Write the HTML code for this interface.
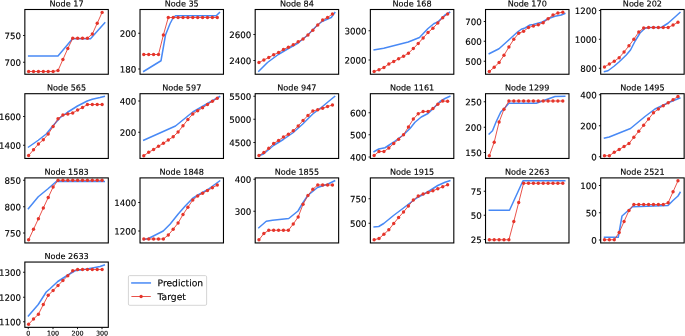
<!DOCTYPE html>
<html><head><meta charset="utf-8"><title>Node predictions</title>
<style>
html,body{margin:0;padding:0;background:#fff;}
body{width:685px;height:336px;overflow:hidden;}
svg{display:block;font-family:"DejaVu Sans","Liberation Sans",sans-serif;fill:#000;}
text{stroke:#000;stroke-width:0.14px;}
</style></head><body>
<svg width="685" height="336" viewBox="0 0 685 336">
<rect width="685" height="336" fill="#fff"/>
<g>
<polyline fill="none" stroke="#4889f5" stroke-width="1.5" stroke-linejoin="round" stroke-linecap="butt" points="27.9,56 58,56 72.5,38.75 90.5,38.75 105.25,22.25"/>
<polyline fill="none" stroke="#e5342a" stroke-width="0.85" stroke-linejoin="round" points="28.62,71.5 33.52,71.5 38.42,71.5 43.32,71.5 48.22,71.5 53.12,71.5 58.02,70.5 62.92,59.5 67.82,48.5 72.72,38.25 77.62,38.25 82.52,38.25 87.42,38.25 92.32,34 97.22,23.25 102.12,12.38"/>
<circle cx="28.62" cy="71.5" r="1.68" fill="#e5342a"/>
<circle cx="33.52" cy="71.5" r="1.68" fill="#e5342a"/>
<circle cx="38.42" cy="71.5" r="1.68" fill="#e5342a"/>
<circle cx="43.32" cy="71.5" r="1.68" fill="#e5342a"/>
<circle cx="48.22" cy="71.5" r="1.68" fill="#e5342a"/>
<circle cx="53.12" cy="71.5" r="1.68" fill="#e5342a"/>
<circle cx="58.02" cy="70.5" r="1.68" fill="#e5342a"/>
<circle cx="62.92" cy="59.5" r="1.68" fill="#e5342a"/>
<circle cx="67.82" cy="48.5" r="1.68" fill="#e5342a"/>
<circle cx="72.72" cy="38.25" r="1.68" fill="#e5342a"/>
<circle cx="77.62" cy="38.25" r="1.68" fill="#e5342a"/>
<circle cx="82.52" cy="38.25" r="1.68" fill="#e5342a"/>
<circle cx="87.42" cy="38.25" r="1.68" fill="#e5342a"/>
<circle cx="92.32" cy="34" r="1.68" fill="#e5342a"/>
<circle cx="97.22" cy="23.25" r="1.68" fill="#e5342a"/>
<circle cx="102.12" cy="12.38" r="1.68" fill="#e5342a"/>
<rect x="24.85" y="9.5" width="83.45" height="64.75" fill="none" stroke="#000" stroke-width="1.1"/>
<line x1="23.05" y1="35.5" x2="24.85" y2="35.5" stroke="#000" stroke-width="0.9"/>
<text x="21.05" y="39" text-anchor="end" font-size="8.68" transform="rotate(0.03 21.05 39)">750</text>
<line x1="23.05" y1="62.25" x2="24.85" y2="62.25" stroke="#000" stroke-width="0.9"/>
<text x="21.05" y="65.75" text-anchor="end" font-size="8.68" transform="rotate(0.03 21.05 65.75)">700</text>
<text x="66.58" y="6.4" text-anchor="middle" font-size="8.12" transform="rotate(0.03 66.58 6.4)">Node 17</text>
</g>
<g>
<polyline fill="none" stroke="#4889f5" stroke-width="1.5" stroke-linejoin="round" stroke-linecap="butt" points="143.07,71.75 161,60.75 165.5,35 170,23.75 173,18 175.5,15.75 216.25,15.75 220,12"/>
<polyline fill="none" stroke="#e5342a" stroke-width="0.85" stroke-linejoin="round" points="143.79,54.5 148.69,54.5 153.59,54.5 158.49,54.5 163.39,35 168.29,17.5 173.19,17.5 178.09,17.5 182.99,17.5 187.89,17.5 192.79,17.5 197.69,17.5 202.59,17.5 207.49,17.5 212.39,17.5 217.29,17.5"/>
<circle cx="143.79" cy="54.5" r="1.68" fill="#e5342a"/>
<circle cx="148.69" cy="54.5" r="1.68" fill="#e5342a"/>
<circle cx="153.59" cy="54.5" r="1.68" fill="#e5342a"/>
<circle cx="158.49" cy="54.5" r="1.68" fill="#e5342a"/>
<circle cx="163.39" cy="35" r="1.68" fill="#e5342a"/>
<circle cx="168.29" cy="17.5" r="1.68" fill="#e5342a"/>
<circle cx="173.19" cy="17.5" r="1.68" fill="#e5342a"/>
<circle cx="178.09" cy="17.5" r="1.68" fill="#e5342a"/>
<circle cx="182.99" cy="17.5" r="1.68" fill="#e5342a"/>
<circle cx="187.89" cy="17.5" r="1.68" fill="#e5342a"/>
<circle cx="192.79" cy="17.5" r="1.68" fill="#e5342a"/>
<circle cx="197.69" cy="17.5" r="1.68" fill="#e5342a"/>
<circle cx="202.59" cy="17.5" r="1.68" fill="#e5342a"/>
<circle cx="207.49" cy="17.5" r="1.68" fill="#e5342a"/>
<circle cx="212.39" cy="17.5" r="1.68" fill="#e5342a"/>
<circle cx="217.29" cy="17.5" r="1.68" fill="#e5342a"/>
<rect x="140.02" y="9.5" width="83.45" height="64.75" fill="none" stroke="#000" stroke-width="1.1"/>
<line x1="138.22" y1="33.25" x2="140.02" y2="33.25" stroke="#000" stroke-width="0.9"/>
<text x="136.22" y="36.75" text-anchor="end" font-size="8.68" transform="rotate(0.03 136.22 36.75)">200</text>
<line x1="138.22" y1="69" x2="140.02" y2="69" stroke="#000" stroke-width="0.9"/>
<text x="136.22" y="72.5" text-anchor="end" font-size="8.68" transform="rotate(0.03 136.22 72.5)">180</text>
<text x="181.75" y="6.4" text-anchor="middle" font-size="8.12" transform="rotate(0.03 181.75 6.4)">Node 35</text>
</g>
<g>
<polyline fill="none" stroke="#4889f5" stroke-width="1.5" stroke-linejoin="round" stroke-linecap="butt" points="258.24,71.75 267.5,62.5 278.25,54.5 288,48.75 297.75,43.25 307.75,35 317.5,25 322.5,21.25 331.25,17.5 335.25,12"/>
<polyline fill="none" stroke="#e5342a" stroke-width="0.85" stroke-linejoin="round" points="258.96,62.5 263.86,60 268.76,57.5 273.66,54.75 278.56,52.5 283.46,49.5 288.36,47.25 293.26,44.75 298.16,41.75 303.06,39 307.96,35 312.86,30.25 317.76,25 322.66,20 327.56,17.5 332.46,14"/>
<circle cx="258.96" cy="62.5" r="1.68" fill="#e5342a"/>
<circle cx="263.86" cy="60" r="1.68" fill="#e5342a"/>
<circle cx="268.76" cy="57.5" r="1.68" fill="#e5342a"/>
<circle cx="273.66" cy="54.75" r="1.68" fill="#e5342a"/>
<circle cx="278.56" cy="52.5" r="1.68" fill="#e5342a"/>
<circle cx="283.46" cy="49.5" r="1.68" fill="#e5342a"/>
<circle cx="288.36" cy="47.25" r="1.68" fill="#e5342a"/>
<circle cx="293.26" cy="44.75" r="1.68" fill="#e5342a"/>
<circle cx="298.16" cy="41.75" r="1.68" fill="#e5342a"/>
<circle cx="303.06" cy="39" r="1.68" fill="#e5342a"/>
<circle cx="307.96" cy="35" r="1.68" fill="#e5342a"/>
<circle cx="312.86" cy="30.25" r="1.68" fill="#e5342a"/>
<circle cx="317.76" cy="25" r="1.68" fill="#e5342a"/>
<circle cx="322.66" cy="20" r="1.68" fill="#e5342a"/>
<circle cx="327.56" cy="17.5" r="1.68" fill="#e5342a"/>
<circle cx="332.46" cy="14" r="1.68" fill="#e5342a"/>
<rect x="255.19" y="9.5" width="83.45" height="64.75" fill="none" stroke="#000" stroke-width="1.1"/>
<line x1="253.39" y1="34.5" x2="255.19" y2="34.5" stroke="#000" stroke-width="0.9"/>
<text x="251.39" y="38" text-anchor="end" font-size="8.68" transform="rotate(0.03 251.39 38)">2600</text>
<line x1="253.39" y1="60.5" x2="255.19" y2="60.5" stroke="#000" stroke-width="0.9"/>
<text x="251.39" y="64" text-anchor="end" font-size="8.68" transform="rotate(0.03 251.39 64)">2400</text>
<text x="296.91" y="6.4" text-anchor="middle" font-size="8.12" transform="rotate(0.03 296.91 6.4)">Node 84</text>
</g>
<g>
<polyline fill="none" stroke="#4889f5" stroke-width="1.5" stroke-linejoin="round" stroke-linecap="butt" points="373.41,50 383.75,48.25 393.5,45.75 408.25,42 419.5,37.5 427.75,28.75 433.75,23.75 437.75,22 445,15 450.25,12"/>
<polyline fill="none" stroke="#e5342a" stroke-width="0.85" stroke-linejoin="round" points="374.13,71.5 379.03,69.75 383.93,67.5 388.83,64 393.73,61.5 398.63,58.75 403.53,56.25 408.43,53.25 413.33,48.5 418.23,43.5 423.13,38 428.03,32.5 432.93,28.25 437.83,23 442.73,17.75 447.63,14"/>
<circle cx="374.13" cy="71.5" r="1.68" fill="#e5342a"/>
<circle cx="379.03" cy="69.75" r="1.68" fill="#e5342a"/>
<circle cx="383.93" cy="67.5" r="1.68" fill="#e5342a"/>
<circle cx="388.83" cy="64" r="1.68" fill="#e5342a"/>
<circle cx="393.73" cy="61.5" r="1.68" fill="#e5342a"/>
<circle cx="398.63" cy="58.75" r="1.68" fill="#e5342a"/>
<circle cx="403.53" cy="56.25" r="1.68" fill="#e5342a"/>
<circle cx="408.43" cy="53.25" r="1.68" fill="#e5342a"/>
<circle cx="413.33" cy="48.5" r="1.68" fill="#e5342a"/>
<circle cx="418.23" cy="43.5" r="1.68" fill="#e5342a"/>
<circle cx="423.13" cy="38" r="1.68" fill="#e5342a"/>
<circle cx="428.03" cy="32.5" r="1.68" fill="#e5342a"/>
<circle cx="432.93" cy="28.25" r="1.68" fill="#e5342a"/>
<circle cx="437.83" cy="23" r="1.68" fill="#e5342a"/>
<circle cx="442.73" cy="17.75" r="1.68" fill="#e5342a"/>
<circle cx="447.63" cy="14" r="1.68" fill="#e5342a"/>
<rect x="370.36" y="9.5" width="83.45" height="64.75" fill="none" stroke="#000" stroke-width="1.1"/>
<line x1="368.56" y1="30.75" x2="370.36" y2="30.75" stroke="#000" stroke-width="0.9"/>
<text x="366.56" y="34.25" text-anchor="end" font-size="8.68" transform="rotate(0.03 366.56 34.25)">3000</text>
<line x1="368.56" y1="60" x2="370.36" y2="60" stroke="#000" stroke-width="0.9"/>
<text x="366.56" y="63.5" text-anchor="end" font-size="8.68" transform="rotate(0.03 366.56 63.5)">2000</text>
<text x="412.09" y="6.4" text-anchor="middle" font-size="8.12" transform="rotate(0.03 412.09 6.4)">Node 168</text>
</g>
<g>
<polyline fill="none" stroke="#4889f5" stroke-width="1.5" stroke-linejoin="round" stroke-linecap="butt" points="488.58,54 499,48.75 508.75,40 517.5,32 521.25,29.25 525,28 530,25 533.25,24.5 542.5,22 548,18.75 555,16.25 561.25,15 565.5,13.25"/>
<polyline fill="none" stroke="#e5342a" stroke-width="0.85" stroke-linejoin="round" points="489.3,71.5 494.2,67.25 499.1,62.5 504,55.25 508.9,47 513.8,39.25 518.7,33.25 523.6,31.25 528.5,27.5 533.4,26 538.3,24.75 543.2,22.75 548.1,18.75 553,15 557.9,13 562.8,12.25"/>
<circle cx="489.3" cy="71.5" r="1.68" fill="#e5342a"/>
<circle cx="494.2" cy="67.25" r="1.68" fill="#e5342a"/>
<circle cx="499.1" cy="62.5" r="1.68" fill="#e5342a"/>
<circle cx="504" cy="55.25" r="1.68" fill="#e5342a"/>
<circle cx="508.9" cy="47" r="1.68" fill="#e5342a"/>
<circle cx="513.8" cy="39.25" r="1.68" fill="#e5342a"/>
<circle cx="518.7" cy="33.25" r="1.68" fill="#e5342a"/>
<circle cx="523.6" cy="31.25" r="1.68" fill="#e5342a"/>
<circle cx="528.5" cy="27.5" r="1.68" fill="#e5342a"/>
<circle cx="533.4" cy="26" r="1.68" fill="#e5342a"/>
<circle cx="538.3" cy="24.75" r="1.68" fill="#e5342a"/>
<circle cx="543.2" cy="22.75" r="1.68" fill="#e5342a"/>
<circle cx="548.1" cy="18.75" r="1.68" fill="#e5342a"/>
<circle cx="553" cy="15" r="1.68" fill="#e5342a"/>
<circle cx="557.9" cy="13" r="1.68" fill="#e5342a"/>
<circle cx="562.8" cy="12.25" r="1.68" fill="#e5342a"/>
<rect x="485.53" y="9.5" width="83.45" height="64.75" fill="none" stroke="#000" stroke-width="1.1"/>
<line x1="483.73" y1="21.5" x2="485.53" y2="21.5" stroke="#000" stroke-width="0.9"/>
<text x="481.73" y="25" text-anchor="end" font-size="8.68" transform="rotate(0.03 481.73 25)">700</text>
<line x1="483.73" y1="41.25" x2="485.53" y2="41.25" stroke="#000" stroke-width="0.9"/>
<text x="481.73" y="44.75" text-anchor="end" font-size="8.68" transform="rotate(0.03 481.73 44.75)">600</text>
<line x1="483.73" y1="61.25" x2="485.53" y2="61.25" stroke="#000" stroke-width="0.9"/>
<text x="481.73" y="64.75" text-anchor="end" font-size="8.68" transform="rotate(0.03 481.73 64.75)">500</text>
<text x="527.25" y="6.4" text-anchor="middle" font-size="8.12" transform="rotate(0.03 527.25 6.4)">Node 170</text>
</g>
<g>
<polyline fill="none" stroke="#4889f5" stroke-width="1.5" stroke-linejoin="round" stroke-linecap="butt" points="603.75,71.75 608,70.75 614,66.25 619,62 626.25,55 630.5,50 635,41.25 640,33 645,28.25 650,27.5 661.25,27.5 668,23.25 675,17 680.5,12"/>
<polyline fill="none" stroke="#e5342a" stroke-width="0.85" stroke-linejoin="round" points="604.47,67 609.37,64 614.27,61.25 619.17,57.75 624.07,52 628.97,45.75 633.87,39.25 638.77,32 643.67,28 648.57,27.5 653.47,27.5 658.37,27.5 663.27,27.5 668.17,27.5 673.07,25 677.97,22.25"/>
<circle cx="604.47" cy="67" r="1.68" fill="#e5342a"/>
<circle cx="609.37" cy="64" r="1.68" fill="#e5342a"/>
<circle cx="614.27" cy="61.25" r="1.68" fill="#e5342a"/>
<circle cx="619.17" cy="57.75" r="1.68" fill="#e5342a"/>
<circle cx="624.07" cy="52" r="1.68" fill="#e5342a"/>
<circle cx="628.97" cy="45.75" r="1.68" fill="#e5342a"/>
<circle cx="633.87" cy="39.25" r="1.68" fill="#e5342a"/>
<circle cx="638.77" cy="32" r="1.68" fill="#e5342a"/>
<circle cx="643.67" cy="28" r="1.68" fill="#e5342a"/>
<circle cx="648.57" cy="27.5" r="1.68" fill="#e5342a"/>
<circle cx="653.47" cy="27.5" r="1.68" fill="#e5342a"/>
<circle cx="658.37" cy="27.5" r="1.68" fill="#e5342a"/>
<circle cx="663.27" cy="27.5" r="1.68" fill="#e5342a"/>
<circle cx="668.17" cy="27.5" r="1.68" fill="#e5342a"/>
<circle cx="673.07" cy="25" r="1.68" fill="#e5342a"/>
<circle cx="677.97" cy="22.25" r="1.68" fill="#e5342a"/>
<rect x="600.7" y="9.5" width="83.45" height="64.75" fill="none" stroke="#000" stroke-width="1.1"/>
<line x1="598.9" y1="10.5" x2="600.7" y2="10.5" stroke="#000" stroke-width="0.9"/>
<text x="596.9" y="14" text-anchor="end" font-size="8.68" transform="rotate(0.03 596.9 14)">1200</text>
<line x1="598.9" y1="39.25" x2="600.7" y2="39.25" stroke="#000" stroke-width="0.9"/>
<text x="596.9" y="42.75" text-anchor="end" font-size="8.68" transform="rotate(0.03 596.9 42.75)">1000</text>
<line x1="598.9" y1="68.25" x2="600.7" y2="68.25" stroke="#000" stroke-width="0.9"/>
<text x="596.9" y="71.75" text-anchor="end" font-size="8.68" transform="rotate(0.03 596.9 71.75)">800</text>
<text x="642.43" y="6.4" text-anchor="middle" font-size="8.12" transform="rotate(0.03 642.43 6.4)">Node 202</text>
</g>
<g>
<polyline fill="none" stroke="#4889f5" stroke-width="1.5" stroke-linejoin="round" stroke-linecap="butt" points="27.9,147.5 38.25,140.25 46.25,134 52.75,126 60,117.75 67.5,112.25 77.5,106 87.25,101 92.25,99.25 100,97.5 105,96.25"/>
<polyline fill="none" stroke="#e5342a" stroke-width="0.85" stroke-linejoin="round" points="28.62,155.5 33.52,149.75 38.42,144 43.32,139.75 48.22,134 53.12,126.5 58.02,118.75 62.92,115 67.82,114 72.72,113 77.62,110 82.52,107.5 87.42,104.5 92.32,104.5 97.22,104.5 102.12,104.5"/>
<circle cx="28.62" cy="155.5" r="1.68" fill="#e5342a"/>
<circle cx="33.52" cy="149.75" r="1.68" fill="#e5342a"/>
<circle cx="38.42" cy="144" r="1.68" fill="#e5342a"/>
<circle cx="43.32" cy="139.75" r="1.68" fill="#e5342a"/>
<circle cx="48.22" cy="134" r="1.68" fill="#e5342a"/>
<circle cx="53.12" cy="126.5" r="1.68" fill="#e5342a"/>
<circle cx="58.02" cy="118.75" r="1.68" fill="#e5342a"/>
<circle cx="62.92" cy="115" r="1.68" fill="#e5342a"/>
<circle cx="67.82" cy="114" r="1.68" fill="#e5342a"/>
<circle cx="72.72" cy="113" r="1.68" fill="#e5342a"/>
<circle cx="77.62" cy="110" r="1.68" fill="#e5342a"/>
<circle cx="82.52" cy="107.5" r="1.68" fill="#e5342a"/>
<circle cx="87.42" cy="104.5" r="1.68" fill="#e5342a"/>
<circle cx="92.32" cy="104.5" r="1.68" fill="#e5342a"/>
<circle cx="97.22" cy="104.5" r="1.68" fill="#e5342a"/>
<circle cx="102.12" cy="104.5" r="1.68" fill="#e5342a"/>
<rect x="24.85" y="93.7" width="83.45" height="64.75" fill="none" stroke="#000" stroke-width="1.1"/>
<line x1="23.05" y1="116.5" x2="24.85" y2="116.5" stroke="#000" stroke-width="0.9"/>
<text x="21.05" y="120" text-anchor="end" font-size="8.68" transform="rotate(0.03 21.05 120)">1600</text>
<line x1="23.05" y1="145.25" x2="24.85" y2="145.25" stroke="#000" stroke-width="0.9"/>
<text x="21.05" y="148.75" text-anchor="end" font-size="8.68" transform="rotate(0.03 21.05 148.75)">1400</text>
<text x="66.58" y="90.6" text-anchor="middle" font-size="8.12" transform="rotate(0.03 66.58 90.6)">Node 565</text>
</g>
<g>
<polyline fill="none" stroke="#4889f5" stroke-width="1.5" stroke-linejoin="round" stroke-linecap="butt" points="143.07,140.5 175.5,126 192.75,112 207.5,103.5 220.25,96.25"/>
<polyline fill="none" stroke="#e5342a" stroke-width="0.85" stroke-linejoin="round" points="143.79,155.75 148.69,152.25 153.59,149.5 158.49,146.25 163.39,143.25 168.29,140 173.19,136.75 178.09,132 182.99,125.75 187.89,119.5 192.79,114 197.69,110.75 202.59,107.75 207.49,104.5 212.39,101.25 217.29,98.25"/>
<circle cx="143.79" cy="155.75" r="1.68" fill="#e5342a"/>
<circle cx="148.69" cy="152.25" r="1.68" fill="#e5342a"/>
<circle cx="153.59" cy="149.5" r="1.68" fill="#e5342a"/>
<circle cx="158.49" cy="146.25" r="1.68" fill="#e5342a"/>
<circle cx="163.39" cy="143.25" r="1.68" fill="#e5342a"/>
<circle cx="168.29" cy="140" r="1.68" fill="#e5342a"/>
<circle cx="173.19" cy="136.75" r="1.68" fill="#e5342a"/>
<circle cx="178.09" cy="132" r="1.68" fill="#e5342a"/>
<circle cx="182.99" cy="125.75" r="1.68" fill="#e5342a"/>
<circle cx="187.89" cy="119.5" r="1.68" fill="#e5342a"/>
<circle cx="192.79" cy="114" r="1.68" fill="#e5342a"/>
<circle cx="197.69" cy="110.75" r="1.68" fill="#e5342a"/>
<circle cx="202.59" cy="107.75" r="1.68" fill="#e5342a"/>
<circle cx="207.49" cy="104.5" r="1.68" fill="#e5342a"/>
<circle cx="212.39" cy="101.25" r="1.68" fill="#e5342a"/>
<circle cx="217.29" cy="98.25" r="1.68" fill="#e5342a"/>
<rect x="140.02" y="93.7" width="83.45" height="64.75" fill="none" stroke="#000" stroke-width="1.1"/>
<line x1="138.22" y1="101" x2="140.02" y2="101" stroke="#000" stroke-width="0.9"/>
<text x="136.22" y="104.5" text-anchor="end" font-size="8.68" transform="rotate(0.03 136.22 104.5)">400</text>
<line x1="138.22" y1="132.25" x2="140.02" y2="132.25" stroke="#000" stroke-width="0.9"/>
<text x="136.22" y="135.75" text-anchor="end" font-size="8.68" transform="rotate(0.03 136.22 135.75)">200</text>
<text x="181.75" y="90.6" text-anchor="middle" font-size="8.12" transform="rotate(0.03 181.75 90.6)">Node 597</text>
</g>
<g>
<polyline fill="none" stroke="#4889f5" stroke-width="1.5" stroke-linejoin="round" stroke-linecap="butt" points="258.24,156 263.5,154 273.5,145.5 283.25,139.5 293,132.75 302.75,124 312.75,114 322.5,106.5 330,100.25 335.25,96"/>
<polyline fill="none" stroke="#e5342a" stroke-width="0.85" stroke-linejoin="round" points="258.96,155.5 263.86,152.5 268.76,148.25 273.66,143.5 278.56,140.5 283.46,137 288.36,134.25 293.26,130.75 298.16,126 303.06,120.5 307.96,115.5 312.86,111 317.76,109.75 322.66,108.25 327.56,106.5 332.46,105"/>
<circle cx="258.96" cy="155.5" r="1.68" fill="#e5342a"/>
<circle cx="263.86" cy="152.5" r="1.68" fill="#e5342a"/>
<circle cx="268.76" cy="148.25" r="1.68" fill="#e5342a"/>
<circle cx="273.66" cy="143.5" r="1.68" fill="#e5342a"/>
<circle cx="278.56" cy="140.5" r="1.68" fill="#e5342a"/>
<circle cx="283.46" cy="137" r="1.68" fill="#e5342a"/>
<circle cx="288.36" cy="134.25" r="1.68" fill="#e5342a"/>
<circle cx="293.26" cy="130.75" r="1.68" fill="#e5342a"/>
<circle cx="298.16" cy="126" r="1.68" fill="#e5342a"/>
<circle cx="303.06" cy="120.5" r="1.68" fill="#e5342a"/>
<circle cx="307.96" cy="115.5" r="1.68" fill="#e5342a"/>
<circle cx="312.86" cy="111" r="1.68" fill="#e5342a"/>
<circle cx="317.76" cy="109.75" r="1.68" fill="#e5342a"/>
<circle cx="322.66" cy="108.25" r="1.68" fill="#e5342a"/>
<circle cx="327.56" cy="106.5" r="1.68" fill="#e5342a"/>
<circle cx="332.46" cy="105" r="1.68" fill="#e5342a"/>
<rect x="255.19" y="93.7" width="83.45" height="64.75" fill="none" stroke="#000" stroke-width="1.1"/>
<line x1="253.39" y1="96.25" x2="255.19" y2="96.25" stroke="#000" stroke-width="0.9"/>
<text x="251.39" y="99.75" text-anchor="end" font-size="8.68" transform="rotate(0.03 251.39 99.75)">5500</text>
<line x1="253.39" y1="119.25" x2="255.19" y2="119.25" stroke="#000" stroke-width="0.9"/>
<text x="251.39" y="122.75" text-anchor="end" font-size="8.68" transform="rotate(0.03 251.39 122.75)">5000</text>
<line x1="253.39" y1="142.5" x2="255.19" y2="142.5" stroke="#000" stroke-width="0.9"/>
<text x="251.39" y="146" text-anchor="end" font-size="8.68" transform="rotate(0.03 251.39 146)">4500</text>
<text x="296.91" y="90.6" text-anchor="middle" font-size="8.12" transform="rotate(0.03 296.91 90.6)">Node 947</text>
</g>
<g>
<polyline fill="none" stroke="#4889f5" stroke-width="1.5" stroke-linejoin="round" stroke-linecap="butt" points="373.41,152 378.75,149 385,147.75 393.5,142.25 403.5,134.75 410,128.5 415,122.25 421.25,117 428,113.5 432.75,109 440,101.5 445,98.5 450.5,96"/>
<polyline fill="none" stroke="#e5342a" stroke-width="0.85" stroke-linejoin="round" points="374.13,155.5 379.03,151.5 383.93,151.5 388.83,148 393.73,143.5 398.63,139.25 403.53,134.75 408.43,127 413.33,119 418.23,113.75 423.13,111.5 428.03,111.5 432.93,108.5 437.83,104.25 442.73,101 447.63,101.25"/>
<circle cx="374.13" cy="155.5" r="1.68" fill="#e5342a"/>
<circle cx="379.03" cy="151.5" r="1.68" fill="#e5342a"/>
<circle cx="383.93" cy="151.5" r="1.68" fill="#e5342a"/>
<circle cx="388.83" cy="148" r="1.68" fill="#e5342a"/>
<circle cx="393.73" cy="143.5" r="1.68" fill="#e5342a"/>
<circle cx="398.63" cy="139.25" r="1.68" fill="#e5342a"/>
<circle cx="403.53" cy="134.75" r="1.68" fill="#e5342a"/>
<circle cx="408.43" cy="127" r="1.68" fill="#e5342a"/>
<circle cx="413.33" cy="119" r="1.68" fill="#e5342a"/>
<circle cx="418.23" cy="113.75" r="1.68" fill="#e5342a"/>
<circle cx="423.13" cy="111.5" r="1.68" fill="#e5342a"/>
<circle cx="428.03" cy="111.5" r="1.68" fill="#e5342a"/>
<circle cx="432.93" cy="108.5" r="1.68" fill="#e5342a"/>
<circle cx="437.83" cy="104.25" r="1.68" fill="#e5342a"/>
<circle cx="442.73" cy="101" r="1.68" fill="#e5342a"/>
<circle cx="447.63" cy="101.25" r="1.68" fill="#e5342a"/>
<rect x="370.36" y="93.7" width="83.45" height="64.75" fill="none" stroke="#000" stroke-width="1.1"/>
<line x1="368.56" y1="112.75" x2="370.36" y2="112.75" stroke="#000" stroke-width="0.9"/>
<text x="366.56" y="116.25" text-anchor="end" font-size="8.68" transform="rotate(0.03 366.56 116.25)">600</text>
<line x1="368.56" y1="134.75" x2="370.36" y2="134.75" stroke="#000" stroke-width="0.9"/>
<text x="366.56" y="138.25" text-anchor="end" font-size="8.68" transform="rotate(0.03 366.56 138.25)">500</text>
<line x1="368.56" y1="157" x2="370.36" y2="157" stroke="#000" stroke-width="0.9"/>
<text x="366.56" y="160.5" text-anchor="end" font-size="8.68" transform="rotate(0.03 366.56 160.5)">400</text>
<text x="412.09" y="90.6" text-anchor="middle" font-size="8.12" transform="rotate(0.03 412.09 90.6)">Node 1161</text>
</g>
<g>
<polyline fill="none" stroke="#4889f5" stroke-width="1.5" stroke-linejoin="round" stroke-linecap="butt" points="488.58,134.5 492.5,130.75 496.25,121.5 500.75,112 505,107.75 508.75,103.25 536.25,103.25 555,96.5 565.5,96.25"/>
<polyline fill="none" stroke="#e5342a" stroke-width="0.85" stroke-linejoin="round" points="489.3,155.75 494.2,142.25 499.1,122 504,109.25 508.9,101 513.8,101 518.7,101 523.6,101 528.5,101 533.4,101 538.3,101 543.2,101 548.1,101 553,101 557.9,101 562.8,101"/>
<circle cx="489.3" cy="155.75" r="1.68" fill="#e5342a"/>
<circle cx="494.2" cy="142.25" r="1.68" fill="#e5342a"/>
<circle cx="499.1" cy="122" r="1.68" fill="#e5342a"/>
<circle cx="504" cy="109.25" r="1.68" fill="#e5342a"/>
<circle cx="508.9" cy="101" r="1.68" fill="#e5342a"/>
<circle cx="513.8" cy="101" r="1.68" fill="#e5342a"/>
<circle cx="518.7" cy="101" r="1.68" fill="#e5342a"/>
<circle cx="523.6" cy="101" r="1.68" fill="#e5342a"/>
<circle cx="528.5" cy="101" r="1.68" fill="#e5342a"/>
<circle cx="533.4" cy="101" r="1.68" fill="#e5342a"/>
<circle cx="538.3" cy="101" r="1.68" fill="#e5342a"/>
<circle cx="543.2" cy="101" r="1.68" fill="#e5342a"/>
<circle cx="548.1" cy="101" r="1.68" fill="#e5342a"/>
<circle cx="553" cy="101" r="1.68" fill="#e5342a"/>
<circle cx="557.9" cy="101" r="1.68" fill="#e5342a"/>
<circle cx="562.8" cy="101" r="1.68" fill="#e5342a"/>
<rect x="485.53" y="93.7" width="83.45" height="64.75" fill="none" stroke="#000" stroke-width="1.1"/>
<line x1="483.73" y1="101.75" x2="485.53" y2="101.75" stroke="#000" stroke-width="0.9"/>
<text x="481.73" y="105.25" text-anchor="end" font-size="8.68" transform="rotate(0.03 481.73 105.25)">250</text>
<line x1="483.73" y1="127.25" x2="485.53" y2="127.25" stroke="#000" stroke-width="0.9"/>
<text x="481.73" y="130.75" text-anchor="end" font-size="8.68" transform="rotate(0.03 481.73 130.75)">200</text>
<line x1="483.73" y1="152.5" x2="485.53" y2="152.5" stroke="#000" stroke-width="0.9"/>
<text x="481.73" y="156" text-anchor="end" font-size="8.68" transform="rotate(0.03 481.73 156)">150</text>
<text x="527.25" y="90.6" text-anchor="middle" font-size="8.12" transform="rotate(0.03 527.25 90.6)">Node 1299</text>
</g>
<g>
<polyline fill="none" stroke="#4889f5" stroke-width="1.5" stroke-linejoin="round" stroke-linecap="butt" points="603.75,138.25 609.25,137 630.5,128.5 645,116.5 655,109 670,102 680.5,97.75"/>
<polyline fill="none" stroke="#e5342a" stroke-width="0.85" stroke-linejoin="round" points="604.47,155.75 609.37,155.75 614.27,152.25 619.17,149.5 624.07,146.5 628.97,143.5 633.87,137.25 638.77,131.25 643.67,125.25 648.57,119 653.47,112.75 658.37,109 663.27,105.75 668.17,102.75 673.07,99.75 677.97,96.5"/>
<circle cx="604.47" cy="155.75" r="1.68" fill="#e5342a"/>
<circle cx="609.37" cy="155.75" r="1.68" fill="#e5342a"/>
<circle cx="614.27" cy="152.25" r="1.68" fill="#e5342a"/>
<circle cx="619.17" cy="149.5" r="1.68" fill="#e5342a"/>
<circle cx="624.07" cy="146.5" r="1.68" fill="#e5342a"/>
<circle cx="628.97" cy="143.5" r="1.68" fill="#e5342a"/>
<circle cx="633.87" cy="137.25" r="1.68" fill="#e5342a"/>
<circle cx="638.77" cy="131.25" r="1.68" fill="#e5342a"/>
<circle cx="643.67" cy="125.25" r="1.68" fill="#e5342a"/>
<circle cx="648.57" cy="119" r="1.68" fill="#e5342a"/>
<circle cx="653.47" cy="112.75" r="1.68" fill="#e5342a"/>
<circle cx="658.37" cy="109" r="1.68" fill="#e5342a"/>
<circle cx="663.27" cy="105.75" r="1.68" fill="#e5342a"/>
<circle cx="668.17" cy="102.75" r="1.68" fill="#e5342a"/>
<circle cx="673.07" cy="99.75" r="1.68" fill="#e5342a"/>
<circle cx="677.97" cy="96.5" r="1.68" fill="#e5342a"/>
<rect x="600.7" y="93.7" width="83.45" height="64.75" fill="none" stroke="#000" stroke-width="1.1"/>
<line x1="598.9" y1="94.75" x2="600.7" y2="94.75" stroke="#000" stroke-width="0.9"/>
<text x="596.9" y="98.25" text-anchor="end" font-size="8.68" transform="rotate(0.03 596.9 98.25)">400</text>
<line x1="598.9" y1="125.75" x2="600.7" y2="125.75" stroke="#000" stroke-width="0.9"/>
<text x="596.9" y="129.25" text-anchor="end" font-size="8.68" transform="rotate(0.03 596.9 129.25)">200</text>
<line x1="598.9" y1="156.75" x2="600.7" y2="156.75" stroke="#000" stroke-width="0.9"/>
<text x="596.9" y="160.25" text-anchor="end" font-size="8.68" transform="rotate(0.03 596.9 160.25)">0</text>
<text x="642.43" y="90.6" text-anchor="middle" font-size="8.12" transform="rotate(0.03 642.43 90.6)">Node 1495</text>
</g>
<g>
<polyline fill="none" stroke="#4889f5" stroke-width="1.5" stroke-linejoin="round" stroke-linecap="butt" points="27.9,209.25 38.25,196.75 48,188.75 56.25,181.5 105,181.5"/>
<polyline fill="none" stroke="#e5342a" stroke-width="0.85" stroke-linejoin="round" points="28.62,239.75 33.52,229.25 38.42,218.75 43.32,208 48.22,197.5 53.12,187 58.02,180.25 62.92,180.25 67.82,180.25 72.72,180.25 77.62,180.25 82.52,180.25 87.42,180.25 92.32,180.25 97.22,180.25 102.12,180.25"/>
<circle cx="28.62" cy="239.75" r="1.68" fill="#e5342a"/>
<circle cx="33.52" cy="229.25" r="1.68" fill="#e5342a"/>
<circle cx="38.42" cy="218.75" r="1.68" fill="#e5342a"/>
<circle cx="43.32" cy="208" r="1.68" fill="#e5342a"/>
<circle cx="48.22" cy="197.5" r="1.68" fill="#e5342a"/>
<circle cx="53.12" cy="187" r="1.68" fill="#e5342a"/>
<circle cx="58.02" cy="180.25" r="1.68" fill="#e5342a"/>
<circle cx="62.92" cy="180.25" r="1.68" fill="#e5342a"/>
<circle cx="67.82" cy="180.25" r="1.68" fill="#e5342a"/>
<circle cx="72.72" cy="180.25" r="1.68" fill="#e5342a"/>
<circle cx="77.62" cy="180.25" r="1.68" fill="#e5342a"/>
<circle cx="82.52" cy="180.25" r="1.68" fill="#e5342a"/>
<circle cx="87.42" cy="180.25" r="1.68" fill="#e5342a"/>
<circle cx="92.32" cy="180.25" r="1.68" fill="#e5342a"/>
<circle cx="97.22" cy="180.25" r="1.68" fill="#e5342a"/>
<circle cx="102.12" cy="180.25" r="1.68" fill="#e5342a"/>
<rect x="24.85" y="177.9" width="83.45" height="65.05" fill="none" stroke="#000" stroke-width="1.1"/>
<line x1="23.05" y1="180.25" x2="24.85" y2="180.25" stroke="#000" stroke-width="0.9"/>
<text x="21.05" y="183.75" text-anchor="end" font-size="8.68" transform="rotate(0.03 21.05 183.75)">850</text>
<line x1="23.05" y1="206.75" x2="24.85" y2="206.75" stroke="#000" stroke-width="0.9"/>
<text x="21.05" y="210.25" text-anchor="end" font-size="8.68" transform="rotate(0.03 21.05 210.25)">800</text>
<line x1="23.05" y1="233" x2="24.85" y2="233" stroke="#000" stroke-width="0.9"/>
<text x="21.05" y="236.5" text-anchor="end" font-size="8.68" transform="rotate(0.03 21.05 236.5)">750</text>
<text x="66.58" y="174.8" text-anchor="middle" font-size="8.12" transform="rotate(0.03 66.58 174.8)">Node 1583</text>
</g>
<g>
<polyline fill="none" stroke="#4889f5" stroke-width="1.5" stroke-linejoin="round" stroke-linecap="butt" points="143.07,239.75 148.5,238.5 163.25,231 170,224.25 178,214.25 185,206.25 192.75,198.25 197.5,195.25 207.5,189.75 220.25,180.5"/>
<polyline fill="none" stroke="#e5342a" stroke-width="0.85" stroke-linejoin="round" points="143.79,239 148.69,239 153.59,239 158.49,239 163.39,239 168.29,235 173.19,229.25 178.09,223 182.99,214.5 187.89,207.25 192.79,200 197.69,196 202.59,193.25 207.49,190.5 212.39,187.75 217.29,185"/>
<circle cx="143.79" cy="239" r="1.68" fill="#e5342a"/>
<circle cx="148.69" cy="239" r="1.68" fill="#e5342a"/>
<circle cx="153.59" cy="239" r="1.68" fill="#e5342a"/>
<circle cx="158.49" cy="239" r="1.68" fill="#e5342a"/>
<circle cx="163.39" cy="239" r="1.68" fill="#e5342a"/>
<circle cx="168.29" cy="235" r="1.68" fill="#e5342a"/>
<circle cx="173.19" cy="229.25" r="1.68" fill="#e5342a"/>
<circle cx="178.09" cy="223" r="1.68" fill="#e5342a"/>
<circle cx="182.99" cy="214.5" r="1.68" fill="#e5342a"/>
<circle cx="187.89" cy="207.25" r="1.68" fill="#e5342a"/>
<circle cx="192.79" cy="200" r="1.68" fill="#e5342a"/>
<circle cx="197.69" cy="196" r="1.68" fill="#e5342a"/>
<circle cx="202.59" cy="193.25" r="1.68" fill="#e5342a"/>
<circle cx="207.49" cy="190.5" r="1.68" fill="#e5342a"/>
<circle cx="212.39" cy="187.75" r="1.68" fill="#e5342a"/>
<circle cx="217.29" cy="185" r="1.68" fill="#e5342a"/>
<rect x="140.02" y="177.9" width="83.45" height="65.05" fill="none" stroke="#000" stroke-width="1.1"/>
<line x1="138.22" y1="202.5" x2="140.02" y2="202.5" stroke="#000" stroke-width="0.9"/>
<text x="136.22" y="206" text-anchor="end" font-size="8.68" transform="rotate(0.03 136.22 206)">1400</text>
<line x1="138.22" y1="231" x2="140.02" y2="231" stroke="#000" stroke-width="0.9"/>
<text x="136.22" y="234.5" text-anchor="end" font-size="8.68" transform="rotate(0.03 136.22 234.5)">1200</text>
<text x="181.75" y="174.8" text-anchor="middle" font-size="8.12" transform="rotate(0.03 181.75 174.8)">Node 1848</text>
</g>
<g>
<polyline fill="none" stroke="#4889f5" stroke-width="1.5" stroke-linejoin="round" stroke-linecap="butt" points="258.24,228.25 266.25,221.25 272.5,220.25 288.75,218.5 298,211 302.75,203 307.75,195.5 317.5,187.5 327.5,184.25 335.25,180.5"/>
<polyline fill="none" stroke="#e5342a" stroke-width="0.85" stroke-linejoin="round" points="258.96,239.75 263.86,233.5 268.76,230.25 273.66,230.25 278.56,230.25 283.46,230.25 288.36,230.25 293.26,224 298.16,217 303.06,204.25 307.96,195.5 312.86,189.25 317.76,185 322.66,185 327.56,185 332.46,185"/>
<circle cx="258.96" cy="239.75" r="1.68" fill="#e5342a"/>
<circle cx="263.86" cy="233.5" r="1.68" fill="#e5342a"/>
<circle cx="268.76" cy="230.25" r="1.68" fill="#e5342a"/>
<circle cx="273.66" cy="230.25" r="1.68" fill="#e5342a"/>
<circle cx="278.56" cy="230.25" r="1.68" fill="#e5342a"/>
<circle cx="283.46" cy="230.25" r="1.68" fill="#e5342a"/>
<circle cx="288.36" cy="230.25" r="1.68" fill="#e5342a"/>
<circle cx="293.26" cy="224" r="1.68" fill="#e5342a"/>
<circle cx="298.16" cy="217" r="1.68" fill="#e5342a"/>
<circle cx="303.06" cy="204.25" r="1.68" fill="#e5342a"/>
<circle cx="307.96" cy="195.5" r="1.68" fill="#e5342a"/>
<circle cx="312.86" cy="189.25" r="1.68" fill="#e5342a"/>
<circle cx="317.76" cy="185" r="1.68" fill="#e5342a"/>
<circle cx="322.66" cy="185" r="1.68" fill="#e5342a"/>
<circle cx="327.56" cy="185" r="1.68" fill="#e5342a"/>
<circle cx="332.46" cy="185" r="1.68" fill="#e5342a"/>
<rect x="255.19" y="177.9" width="83.45" height="65.05" fill="none" stroke="#000" stroke-width="1.1"/>
<line x1="253.39" y1="179.25" x2="255.19" y2="179.25" stroke="#000" stroke-width="0.9"/>
<text x="251.39" y="182.75" text-anchor="end" font-size="8.68" transform="rotate(0.03 251.39 182.75)">400</text>
<line x1="253.39" y1="211.25" x2="255.19" y2="211.25" stroke="#000" stroke-width="0.9"/>
<text x="251.39" y="214.75" text-anchor="end" font-size="8.68" transform="rotate(0.03 251.39 214.75)">300</text>
<text x="296.91" y="174.8" text-anchor="middle" font-size="8.12" transform="rotate(0.03 296.91 174.8)">Node 1855</text>
</g>
<g>
<polyline fill="none" stroke="#4889f5" stroke-width="1.5" stroke-linejoin="round" stroke-linecap="butt" points="373.41,227 378.75,226.5 383.75,223.5 393.5,215.5 403.5,208 413.25,200.5 418,197.25 428,191.75 437.75,185.5 445,182.25 450.5,180.5"/>
<polyline fill="none" stroke="#e5342a" stroke-width="0.85" stroke-linejoin="round" points="374.13,239.75 379.03,238.5 383.93,234.25 388.83,229.75 393.73,223.5 398.63,217.5 403.53,212 408.43,206 413.33,200 418.23,196 423.13,194 428.03,192.5 432.93,190.75 437.83,188.75 442.73,186.75 447.63,184.75"/>
<circle cx="374.13" cy="239.75" r="1.68" fill="#e5342a"/>
<circle cx="379.03" cy="238.5" r="1.68" fill="#e5342a"/>
<circle cx="383.93" cy="234.25" r="1.68" fill="#e5342a"/>
<circle cx="388.83" cy="229.75" r="1.68" fill="#e5342a"/>
<circle cx="393.73" cy="223.5" r="1.68" fill="#e5342a"/>
<circle cx="398.63" cy="217.5" r="1.68" fill="#e5342a"/>
<circle cx="403.53" cy="212" r="1.68" fill="#e5342a"/>
<circle cx="408.43" cy="206" r="1.68" fill="#e5342a"/>
<circle cx="413.33" cy="200" r="1.68" fill="#e5342a"/>
<circle cx="418.23" cy="196" r="1.68" fill="#e5342a"/>
<circle cx="423.13" cy="194" r="1.68" fill="#e5342a"/>
<circle cx="428.03" cy="192.5" r="1.68" fill="#e5342a"/>
<circle cx="432.93" cy="190.75" r="1.68" fill="#e5342a"/>
<circle cx="437.83" cy="188.75" r="1.68" fill="#e5342a"/>
<circle cx="442.73" cy="186.75" r="1.68" fill="#e5342a"/>
<circle cx="447.63" cy="184.75" r="1.68" fill="#e5342a"/>
<rect x="370.36" y="177.9" width="83.45" height="65.05" fill="none" stroke="#000" stroke-width="1.1"/>
<line x1="368.56" y1="198.75" x2="370.36" y2="198.75" stroke="#000" stroke-width="0.9"/>
<text x="366.56" y="202.25" text-anchor="end" font-size="8.68" transform="rotate(0.03 366.56 202.25)">750</text>
<line x1="368.56" y1="223.25" x2="370.36" y2="223.25" stroke="#000" stroke-width="0.9"/>
<text x="366.56" y="226.75" text-anchor="end" font-size="8.68" transform="rotate(0.03 366.56 226.75)">500</text>
<text x="412.09" y="174.8" text-anchor="middle" font-size="8.12" transform="rotate(0.03 412.09 174.8)">Node 1915</text>
</g>
<g>
<polyline fill="none" stroke="#4889f5" stroke-width="1.5" stroke-linejoin="round" stroke-linecap="butt" points="488.58,210.25 509.5,210.25 523,180.75 565.5,180.75"/>
<polyline fill="none" stroke="#e5342a" stroke-width="0.85" stroke-linejoin="round" points="489.3,239.75 494.2,239.75 499.1,239.75 504,239.75 508.9,239.75 513.8,221.5 518.7,202.5 523.6,183.25 528.5,183.25 533.4,183.25 538.3,183.25 543.2,183.25 548.1,183.25 553,183.25 557.9,183.25 562.8,183.25"/>
<circle cx="489.3" cy="239.75" r="1.68" fill="#e5342a"/>
<circle cx="494.2" cy="239.75" r="1.68" fill="#e5342a"/>
<circle cx="499.1" cy="239.75" r="1.68" fill="#e5342a"/>
<circle cx="504" cy="239.75" r="1.68" fill="#e5342a"/>
<circle cx="508.9" cy="239.75" r="1.68" fill="#e5342a"/>
<circle cx="513.8" cy="221.5" r="1.68" fill="#e5342a"/>
<circle cx="518.7" cy="202.5" r="1.68" fill="#e5342a"/>
<circle cx="523.6" cy="183.25" r="1.68" fill="#e5342a"/>
<circle cx="528.5" cy="183.25" r="1.68" fill="#e5342a"/>
<circle cx="533.4" cy="183.25" r="1.68" fill="#e5342a"/>
<circle cx="538.3" cy="183.25" r="1.68" fill="#e5342a"/>
<circle cx="543.2" cy="183.25" r="1.68" fill="#e5342a"/>
<circle cx="548.1" cy="183.25" r="1.68" fill="#e5342a"/>
<circle cx="553" cy="183.25" r="1.68" fill="#e5342a"/>
<circle cx="557.9" cy="183.25" r="1.68" fill="#e5342a"/>
<circle cx="562.8" cy="183.25" r="1.68" fill="#e5342a"/>
<rect x="485.53" y="177.9" width="83.45" height="65.05" fill="none" stroke="#000" stroke-width="1.1"/>
<line x1="483.73" y1="191.25" x2="485.53" y2="191.25" stroke="#000" stroke-width="0.9"/>
<text x="481.73" y="194.75" text-anchor="end" font-size="8.68" transform="rotate(0.03 481.73 194.75)">75</text>
<line x1="483.73" y1="215.25" x2="485.53" y2="215.25" stroke="#000" stroke-width="0.9"/>
<text x="481.73" y="218.75" text-anchor="end" font-size="8.68" transform="rotate(0.03 481.73 218.75)">50</text>
<line x1="483.73" y1="239.5" x2="485.53" y2="239.5" stroke="#000" stroke-width="0.9"/>
<text x="481.73" y="243" text-anchor="end" font-size="8.68" transform="rotate(0.03 481.73 243)">25</text>
<text x="527.25" y="174.8" text-anchor="middle" font-size="8.12" transform="rotate(0.03 527.25 174.8)">Node 2263</text>
</g>
<g>
<polyline fill="none" stroke="#4889f5" stroke-width="1.5" stroke-linejoin="round" stroke-linecap="butt" points="603.75,237.25 618.25,237.25 622,216 632.5,206.75 668,205.5 673,200.5 678,196 680.5,191.75"/>
<polyline fill="none" stroke="#e5342a" stroke-width="0.85" stroke-linejoin="round" points="604.47,239.75 609.37,239.75 614.27,239.75 619.17,232.5 624.07,221.5 628.97,210.5 633.87,204.5 638.77,204.5 643.67,204.5 648.57,204.5 653.47,204.5 658.37,204.5 663.27,204.5 668.17,202.75 673.07,191.75 677.97,180.75"/>
<circle cx="604.47" cy="239.75" r="1.68" fill="#e5342a"/>
<circle cx="609.37" cy="239.75" r="1.68" fill="#e5342a"/>
<circle cx="614.27" cy="239.75" r="1.68" fill="#e5342a"/>
<circle cx="619.17" cy="232.5" r="1.68" fill="#e5342a"/>
<circle cx="624.07" cy="221.5" r="1.68" fill="#e5342a"/>
<circle cx="628.97" cy="210.5" r="1.68" fill="#e5342a"/>
<circle cx="633.87" cy="204.5" r="1.68" fill="#e5342a"/>
<circle cx="638.77" cy="204.5" r="1.68" fill="#e5342a"/>
<circle cx="643.67" cy="204.5" r="1.68" fill="#e5342a"/>
<circle cx="648.57" cy="204.5" r="1.68" fill="#e5342a"/>
<circle cx="653.47" cy="204.5" r="1.68" fill="#e5342a"/>
<circle cx="658.37" cy="204.5" r="1.68" fill="#e5342a"/>
<circle cx="663.27" cy="204.5" r="1.68" fill="#e5342a"/>
<circle cx="668.17" cy="202.75" r="1.68" fill="#e5342a"/>
<circle cx="673.07" cy="191.75" r="1.68" fill="#e5342a"/>
<circle cx="677.97" cy="180.75" r="1.68" fill="#e5342a"/>
<rect x="600.7" y="177.9" width="83.45" height="65.05" fill="none" stroke="#000" stroke-width="1.1"/>
<line x1="598.9" y1="185.5" x2="600.7" y2="185.5" stroke="#000" stroke-width="0.9"/>
<text x="596.9" y="189" text-anchor="end" font-size="8.68" transform="rotate(0.03 596.9 189)">100</text>
<line x1="598.9" y1="212.75" x2="600.7" y2="212.75" stroke="#000" stroke-width="0.9"/>
<text x="596.9" y="216.25" text-anchor="end" font-size="8.68" transform="rotate(0.03 596.9 216.25)">50</text>
<line x1="598.9" y1="240" x2="600.7" y2="240" stroke="#000" stroke-width="0.9"/>
<text x="596.9" y="243.5" text-anchor="end" font-size="8.68" transform="rotate(0.03 596.9 243.5)">0</text>
<text x="642.43" y="174.8" text-anchor="middle" font-size="8.12" transform="rotate(0.03 642.43 174.8)">Node 2521</text>
</g>
<g>
<polyline fill="none" stroke="#4889f5" stroke-width="1.5" stroke-linejoin="round" stroke-linecap="butt" points="27.9,316.5 38.25,304.5 46.25,292 50,288.75 57.75,281.5 67.5,275.25 75,270.75 87.25,269 100,266.5 105,264.75"/>
<polyline fill="none" stroke="#e5342a" stroke-width="0.85" stroke-linejoin="round" points="28.62,324.25 33.52,319 38.42,314.25 43.32,304.5 48.22,295.25 53.12,290.5 58.02,285.5 62.92,280.5 67.82,275.75 72.72,270.75 77.62,269.5 82.52,269.5 87.42,269.5 92.32,269.5 97.22,269.5 102.12,269.5"/>
<circle cx="28.62" cy="324.25" r="1.68" fill="#e5342a"/>
<circle cx="33.52" cy="319" r="1.68" fill="#e5342a"/>
<circle cx="38.42" cy="314.25" r="1.68" fill="#e5342a"/>
<circle cx="43.32" cy="304.5" r="1.68" fill="#e5342a"/>
<circle cx="48.22" cy="295.25" r="1.68" fill="#e5342a"/>
<circle cx="53.12" cy="290.5" r="1.68" fill="#e5342a"/>
<circle cx="58.02" cy="285.5" r="1.68" fill="#e5342a"/>
<circle cx="62.92" cy="280.5" r="1.68" fill="#e5342a"/>
<circle cx="67.82" cy="275.75" r="1.68" fill="#e5342a"/>
<circle cx="72.72" cy="270.75" r="1.68" fill="#e5342a"/>
<circle cx="77.62" cy="269.5" r="1.68" fill="#e5342a"/>
<circle cx="82.52" cy="269.5" r="1.68" fill="#e5342a"/>
<circle cx="87.42" cy="269.5" r="1.68" fill="#e5342a"/>
<circle cx="92.32" cy="269.5" r="1.68" fill="#e5342a"/>
<circle cx="97.22" cy="269.5" r="1.68" fill="#e5342a"/>
<circle cx="102.12" cy="269.5" r="1.68" fill="#e5342a"/>
<rect x="24.85" y="262.05" width="83.45" height="65.3" fill="none" stroke="#000" stroke-width="1.1"/>
<line x1="23.05" y1="272.25" x2="24.85" y2="272.25" stroke="#000" stroke-width="0.9"/>
<text x="21.05" y="275.75" text-anchor="end" font-size="8.68" transform="rotate(0.03 21.05 275.75)">1300</text>
<line x1="23.05" y1="297.25" x2="24.85" y2="297.25" stroke="#000" stroke-width="0.9"/>
<text x="21.05" y="300.75" text-anchor="end" font-size="8.68" transform="rotate(0.03 21.05 300.75)">1200</text>
<line x1="23.05" y1="321.75" x2="24.85" y2="321.75" stroke="#000" stroke-width="0.9"/>
<text x="21.05" y="325.25" text-anchor="end" font-size="8.68" transform="rotate(0.03 21.05 325.25)">1100</text>
<line x1="28.25" y1="327.35" x2="28.25" y2="329.15" stroke="#000" stroke-width="0.9"/>
<text x="28.25" y="335.6" text-anchor="middle" font-size="6.4" transform="rotate(0.03 28.25 335.6)">0</text>
<line x1="53" y1="327.35" x2="53" y2="329.15" stroke="#000" stroke-width="0.9"/>
<text x="53" y="335.6" text-anchor="middle" font-size="6.4" transform="rotate(0.03 53 335.6)">100</text>
<line x1="77.5" y1="327.35" x2="77.5" y2="329.15" stroke="#000" stroke-width="0.9"/>
<text x="77.5" y="335.6" text-anchor="middle" font-size="6.4" transform="rotate(0.03 77.5 335.6)">200</text>
<line x1="102" y1="327.35" x2="102" y2="329.15" stroke="#000" stroke-width="0.9"/>
<text x="102" y="335.6" text-anchor="middle" font-size="6.4" transform="rotate(0.03 102 335.6)">300</text>
<text x="66.58" y="258.95" text-anchor="middle" font-size="8.12" transform="rotate(0.03 66.58 258.95)">Node 2633</text>
</g>
<rect x="128.4" y="275.6" width="78.2" height="29.7" rx="1.3" fill="#fff" stroke="#cdcdcd" stroke-width="0.85"/>
<line x1="131.9" y1="282.95" x2="150.3" y2="282.95" stroke-linecap="square" stroke="#4889f5" stroke-width="1.5"/>
<line x1="131.9" y1="296.5" x2="150.3" y2="296.5" stroke-linecap="square" stroke="#e5342a" stroke-width="0.85"/>
<circle cx="141.1" cy="296.5" r="1.68" fill="#e5342a"/>
<text x="157.5" y="286.2" text-anchor="start" font-size="9.2" transform="rotate(0.03 157.5 286.2)">Prediction</text>
<text x="157.5" y="300" text-anchor="start" font-size="9.2" transform="rotate(0.03 157.5 300)">Target</text>
</svg>
</body></html>
